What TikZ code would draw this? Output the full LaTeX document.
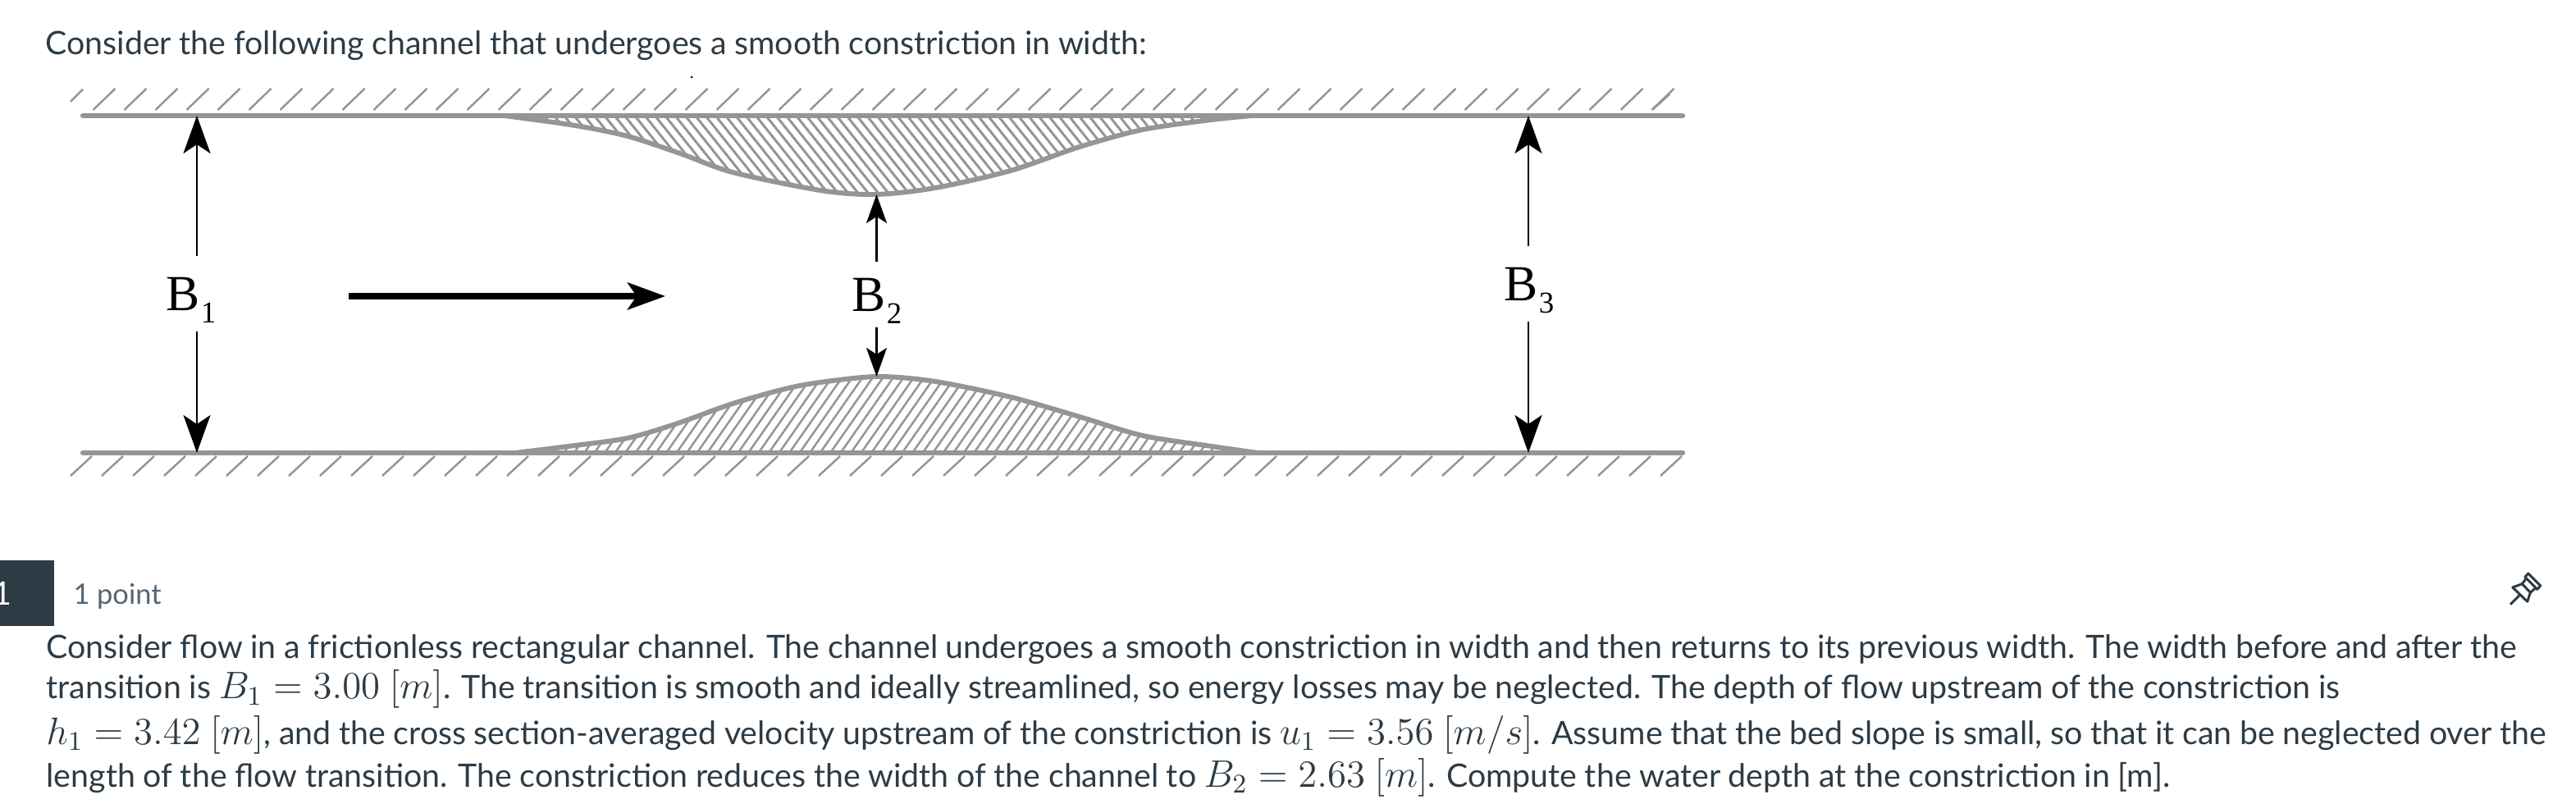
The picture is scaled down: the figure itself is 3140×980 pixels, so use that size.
\documentclass[tikz,border=0pt]{standalone}
\usepackage{fix-cm}
\usepackage{fontspec}
\setmainfont[WordSpace=0.96]{Lato}
\newfontfamily\figfont{Liberation Serif}
\usepackage{tikz}
\usetikzlibrary{arrows.meta}

\definecolor{canvasink}{HTML}{2D3B45}
\definecolor{pointgray}{HTML}{556572}
\definecolor{wallgray}{HTML}{959595}

\newcommand{\mth}[1]{{\fontsize{13.3}{16}\selectfont$#1$}}
\newcommand{\widthlabel}[2]{{\figfont\fontsize{17.5}{20}\selectfont #1\rlap{\smash{\raisebox{-4.3pt}{\fontsize{10.5}{12}\selectfont\kern.4pt #2}}}}}
\newcommand{\topcurve}{plot[smooth] coordinates {(615,141) (701,153) (765,166) (829,187) (893,210) (1000,232) (1067,237) (1140,229) (1232,208) (1316,179) (1393,158) (1477,146) (1526,141)}}
\newcommand{\botcurve}{plot[smooth] coordinates {(628,552) (701,543) (765,534) (823,517) (893,492) (957,474) (1000,466) (1070,459) (1140,465) (1232,484) (1316,508) (1393,531) (1477,544) (1533,552)}}

\tikzset{
	wall/.style={wallgray,line width=1.8pt,line cap=round},
	hatch/.style={wallgray,line width=.7pt},
	bighead/.style={-{Stealth[length=4.6mm,width=3.3mm,inset=1.1mm]},line width=.7pt},
	smallhead/.style={-{Stealth[length=3.5mm,width=2.5mm,inset=.8mm]},line width=.7pt},
	widthnode/.style={inner sep=0,minimum height=.9cm},
	bodyline/.style={anchor=base west,inner sep=0,text=canvasink,font=\fontsize{11.17}{14}\selectfont}
}

\begin{document}
\begin{tikzpicture}[x=.01cm,y=-.01cm]
\useasboundingbox (0,0) rectangle (3140,980);
\fill[white] (0,0) rectangle (3140,980);

\node[bodyline] (intro) at (55,67) {Consider the following channel that undergoes a smooth constriction in width:};

% Hatching behind the walls
\foreach \k in {0,...,50}
\draw[hatch] (113.5+38*\k,134) -- (140.5+38*\k,108);
\draw[hatch] (86,124) -- (101,109);
\draw[hatch] (2015,133) -- (2035,115);
\foreach \k in {0,...,51}
\draw[hatch] (86+38*\k,580) -- (112+38*\k,556);

% Top and bottom bumps
\begin{scope}
\clip \topcurve -- cycle;
\foreach \c in {0,...,90}
\draw[hatch,line width=.85pt] (540+12.3*\c,141) -- (620+12.3*\c,241);
\end{scope}
\begin{scope}
\clip \botcurve -- cycle;
\foreach \c in {0,...,90}
\draw[hatch] (560+12.5*\c,555) -- (630+12.5*\c,455);
\end{scope}
\draw[wallgray,line width=1.7pt] \topcurve;
\draw[wallgray,line width=1.7pt] \botcurve;
\draw[wall] (101,141) -- (2051,141);
\draw[wall] (101,552) -- (2051,552);
\fill[black] (843,94) circle (1.5);

% Width labels
\coordinate (b1top) at (240,141);
\coordinate (b1bot) at (240,552);
\coordinate (b2top) at (1068.5,237);
\coordinate (b2bot) at (1068.5,459);
\coordinate (b3top) at (1863,141);
\coordinate (b3bot) at (1863,552);
\node[widthnode] (b1lab) at (223,358) {\widthlabel{B}{1}};
\node[widthnode,minimum height=.78cm] (b2lab) at (1059,359) {\widthlabel{B}{2}};
\node[widthnode,minimum height=.9cm] (b3lab) at (1854,346) {\widthlabel{B}{3}};
\draw[bighead] (b1lab.north -| b1top) -- (b1top);
\draw[bighead] (b1lab.south -| b1bot) -- (b1bot);
\draw[smallhead] (b2lab.north -| b2top) -- (b2top);
\draw[smallhead] (b2lab.south -| b2bot) -- (b2bot);
\draw[bighead] (b3lab.north -| b3top) -- (b3top);
\draw[bighead] (b3lab.south -| b3bot) -- (b3bot);

% Flow direction
\coordinate (flowstart) at (425,361);
\coordinate (flowend) at (811,361);
\draw[-{Stealth[length=4.6mm,width=3.3mm,inset=1.1mm]},line width=2pt] (flowstart) -- (flowend);

% Question header
\fill[canvasink] (0,683) rectangle (66,763);
\node[anchor=base east,inner sep=0,text=white,font=\fontsize{11.2}{14}\selectfont] (qnum) at (15,738) {1};
\node[anchor=base west,inner sep=0,text=pointgray,font=\fontsize{9.8}{12}\selectfont] (qpoints) at (89,737) {1 point};

% Pin
\begin{scope}[canvasink,line width=.85pt,line join=round]
\draw (3081.7,699) -- (3096.7,714) -- (3092.7,718.3) -- (3077.7,703.3) -- cycle;
\draw (3062.7,716) -- (3074.3,711.7) -- (3084.3,722.3) -- (3080.7,733.3) -- cycle;
\draw (3079.3,705) -- (3074.3,711.7);
\draw (3090.7,716.7) -- (3084.3,722.3);
\draw (3071.7,725) -- (3060,736.7);
\end{scope}

% Question text
\node[bodyline] (lineone) at (56,803) {Consider flow in a frictionless rectangular channel. The channel undergoes a smooth constriction in width and then returns to its previous width. The width before and after the};
\node[bodyline] (linetwo) at (56,852) {transition is \mth{B_1=3.00\ [m]}. The transition is smooth and ideally streamlined, so energy losses may be neglected. The depth of flow upstream of the constriction is};
\node[bodyline] (linethree) at (56,907) {\mth{h_1=3.42\ [m]}, and the cross section-averaged velocity upstream of the constriction is \mth{u_1=3.56\ [m/s]}. Assume that the bed slope is small, so that it can be neglected over the};
\node[bodyline] (linefour) at (56,959) {length of the flow transition. The constriction reduces the width of the channel to \mth{B_2=2.63\ [m]}. Compute the water depth at the constriction in [m].};
\end{tikzpicture}
\end{document}
